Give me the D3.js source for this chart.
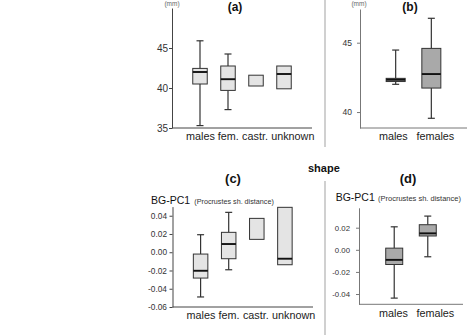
<!DOCTYPE html>
<html>
<head>
<meta charset="utf-8">
<script src="https://cdn.jsdelivr.net/npm/d3@7"></script>
<style>
  html, body { margin: 0; padding: 0; background: #fff; }
  svg { display: block; font-family: "Liberation Sans", Arial, sans-serif; }
</style>
</head>
<body>
<svg id="fig" width="474" height="335"></svg>
<script>
// ---- size: all four groups ----
const sizeGroups = ["males", "fem.", "castr.", "unknown"];
const sizeMin    = [35.3, 37.3, null, null];
const sizeQ1     = [40.5, 39.7, 40.25, 39.9];
const sizeMedian = [42.0, 41.1, null, 41.75];
const sizeQ3     = [42.45, 42.75, 41.6, 42.75];
const sizeMax    = [45.9, 44.25, null, null];
const sizeTicks  = [35, 40, 45];

// ---- size: males vs females ----
const sexGroups     = ["males", "females"];
const sizeSexMin    = [42.0, 39.55];
const sizeSexQ1     = [42.2, 41.73];
const sizeSexMedian = [42.33, 42.74];
const sizeSexQ3     = [42.43, 44.59];
const sizeSexMax    = [44.47, 46.76];
const sizeSexTicks  = [40, 45];

// ---- shape (BG-PC1): all four groups ----
const shapeMin    = [-0.049, -0.0192, null, null];
const shapeQ1     = [-0.0283, -0.0071, 0.0141, -0.0137];
const shapeMedian = [-0.0203, 0.009, null, -0.0071];
const shapeQ3     = [-0.002, 0.0218, 0.0371, 0.0492];
const shapeMax    = [0.0192, 0.0437, null, null];
const shapeTicks  = [-0.06, -0.04, -0.02, 0, 0.02, 0.04];

// ---- shape (BG-PC1): males vs females ----
const shapeSexMin    = [-0.0437, -0.0063];
const shapeSexQ1     = [-0.0133, 0.0125];
const shapeSexMedian = [-0.0091, 0.0149];
const shapeSexQ3     = [0.0015, 0.0227];
const shapeSexMax    = [0.0208, 0.0305];
const shapeSexTicks  = [-0.04, -0.02, 0, 0.02];

const svg = d3.select("#fig");

function boxPanel(o) {
  const g = svg.append("g");
  const x = d3.scalePoint().domain(o.groups).range(o.xRange).padding(o.pad);
  const y = d3.scaleLinear().domain(o.yDomain).range(o.yRange);

  // y axis
  const ya = g.append("g")
    .attr("transform", `translate(${o.xRange[0]},0)`)
    .call(d3.axisLeft(y).tickValues(o.ticks).tickSizeInner(3).tickSizeOuter(0)
      .tickPadding(o.tickPad).tickFormat(o.fmt));
  ya.select(".domain").attr("stroke", o.axisColor);
  ya.selectAll(".tick line").attr("stroke", o.axisColor);
  ya.selectAll(".tick text").attr("fill", "#333").attr("font-size", o.tickFont)
    .attr("font-family", "Liberation Sans, Arial, sans-serif");

  // x baseline with category labels
  g.append("line")
    .attr("x1", o.xRange[0]).attr("x2", o.xRange[1])
    .attr("y1", o.yRange[0]).attr("y2", o.yRange[0])
    .attr("stroke", o.axisColor).attr("stroke-width", 1);
  g.selectAll(".cat").data(o.groups).join("text")
    .attr("x", (d, i) => x(d) + o.labelShift[i])
    .attr("y", o.yRange[0] + o.labelGap)
    .attr("text-anchor", "middle")
    .attr("font-size", 10.8).attr("fill", "#222")
    .text(d => d);

  const rows = o.groups.map((grp, i) => ({
    grp, min: o.min[i], q1: o.q1[i], med: o.med[i], q3: o.q3[i], max: o.max[i]
  }));
  const hw = o.boxW / 2, cap = 3.5;

  rows.forEach(r => {
    const cx = x(r.grp);
    if (r.max != null) {
      g.append("line").attr("x1", cx).attr("x2", cx)
        .attr("y1", y(r.q3)).attr("y2", y(r.max)).attr("stroke", "#333").attr("stroke-width", 1.2);
      g.append("line").attr("x1", cx - cap).attr("x2", cx + cap)
        .attr("y1", y(r.max)).attr("y2", y(r.max)).attr("stroke", "#333").attr("stroke-width", 1.2);
    }
    if (r.min != null) {
      g.append("line").attr("x1", cx).attr("x2", cx)
        .attr("y1", y(r.q1)).attr("y2", y(r.min)).attr("stroke", "#333").attr("stroke-width", 1.2);
      g.append("line").attr("x1", cx - cap).attr("x2", cx + cap)
        .attr("y1", y(r.min)).attr("y2", y(r.min)).attr("stroke", "#333").attr("stroke-width", 1.2);
    }
    g.append("rect")
      .attr("x", cx - hw).attr("width", o.boxW)
      .attr("y", y(r.q3)).attr("height", y(r.q1) - y(r.q3))
      .attr("fill", o.fill).attr("stroke", "#333").attr("stroke-width", 1);
    if (r.med != null) {
      g.append("line").attr("x1", cx - hw).attr("x2", cx + hw)
        .attr("y1", y(r.med)).attr("y2", y(r.med))
        .attr("stroke", "#111").attr("stroke-width", 1.9);
    }
  });
  return g;
}

const twoDec = d => d.toFixed(2);

// (a) size, four groups
boxPanel({
  groups: sizeGroups, min: sizeMin, q1: sizeQ1, med: sizeMedian, q3: sizeQ3, max: sizeMax,
  ticks: sizeTicks, fmt: d3.format("d"),
  xRange: [172, 312], pad: 1, yDomain: [35, 50], yRange: [128, 8],
  boxW: 14.5, fill: "#e4e4e4", axisColor: "#444", tickFont: 10, tickPad: 1,
  labelGap: 12, labelShift: [0.4, 0.3, -1, 8.8]
});

// (b) size, males vs females
boxPanel({
  groups: sexGroups, min: sizeSexMin, q1: sizeSexQ1, med: sizeSexMedian, q3: sizeSexQ3, max: sizeSexMax,
  ticks: sizeSexTicks, fmt: d3.format("d"),
  xRange: [360, 467], pad: 1, yDomain: [38.85, 47.43], yRange: [128, 9],
  boxW: 19, fill: "#a9a9a9", axisColor: "#777", tickFont: 8.5, tickPad: 5,
  labelGap: 12, labelShift: [-2.3, 4]
});

// (c) shape, four groups
boxPanel({
  groups: sizeGroups, min: shapeMin, q1: shapeQ1, med: shapeMedian, q3: shapeQ3, max: shapeMax,
  ticks: shapeTicks, fmt: twoDec,
  xRange: [172.5, 313], pad: 1, yDomain: [-0.06, 0.05], yRange: [307, 206.6],
  boxW: 14.5, fill: "#e4e4e4", axisColor: "#444", tickFont: 8.3, tickPad: 2.5,
  labelGap: 11.5, labelShift: [0.4, 0.3, -1, 8.8]
});

// (d) shape, males vs females
boxPanel({
  groups: sexGroups, min: shapeSexMin, q1: shapeSexQ1, med: shapeSexMedian, q3: shapeSexQ3, max: shapeSexMax,
  ticks: shapeSexTicks, fmt: twoDec,
  xRange: [359, 463], pad: 1.05, yDomain: [-0.0493, 0.038], yRange: [304.3, 207.8],
  boxW: 17, fill: "#a9a9a9", axisColor: "#777", tickFont: 7.8, tickPad: 6,
  labelGap: 12.5, labelShift: [-0.7, 7.6]
});

// panel letters, units and axis titles
const txt = (x, y, s, size, opts = {}) => svg.append("text")
  .attr("x", x).attr("y", y).attr("font-size", size)
  .attr("text-anchor", opts.anchor || "start")
  .attr("font-weight", opts.bold ? "bold" : null)
  .attr("fill", opts.fill || "#111").text(s);

txt(235, 10.5, "(a)", 12, { anchor: "middle", bold: true });
txt(410, 10.5, "(b)", 12, { anchor: "middle", bold: true });
txt(233, 183, "(c)", 13, { anchor: "middle", bold: true });
txt(408, 183, "(d)", 13, { anchor: "middle", bold: true });
txt(172, 6, "(mm)", 6.5, { anchor: "middle", fill: "#666" });
txt(359, 6, "(mm)", 6.5, { anchor: "middle", fill: "#666" });
txt(308, 172, "shape", 11, { bold: true });

txt(151, 204, "BG-PC1", 10.5);
txt(194.3, 204, "(Procrustes sh. distance)", 7.2, { fill: "#333" });
txt(335.7, 200.5, "BG-PC1", 10.5);
txt(378, 200.5, "(Procrustes sh. distance)", 7.5, { fill: "#333" });

// divider between the two columns
svg.append("line").attr("x1", 325).attr("x2", 325).attr("y1", 0).attr("y2", 147)
  .attr("stroke", "#d0d0d0").attr("stroke-width", 2);
svg.append("line").attr("x1", 325).attr("x2", 325).attr("y1", 181).attr("y2", 335)
  .attr("stroke", "#d0d0d0").attr("stroke-width", 2);
</script>
</body>
</html>
